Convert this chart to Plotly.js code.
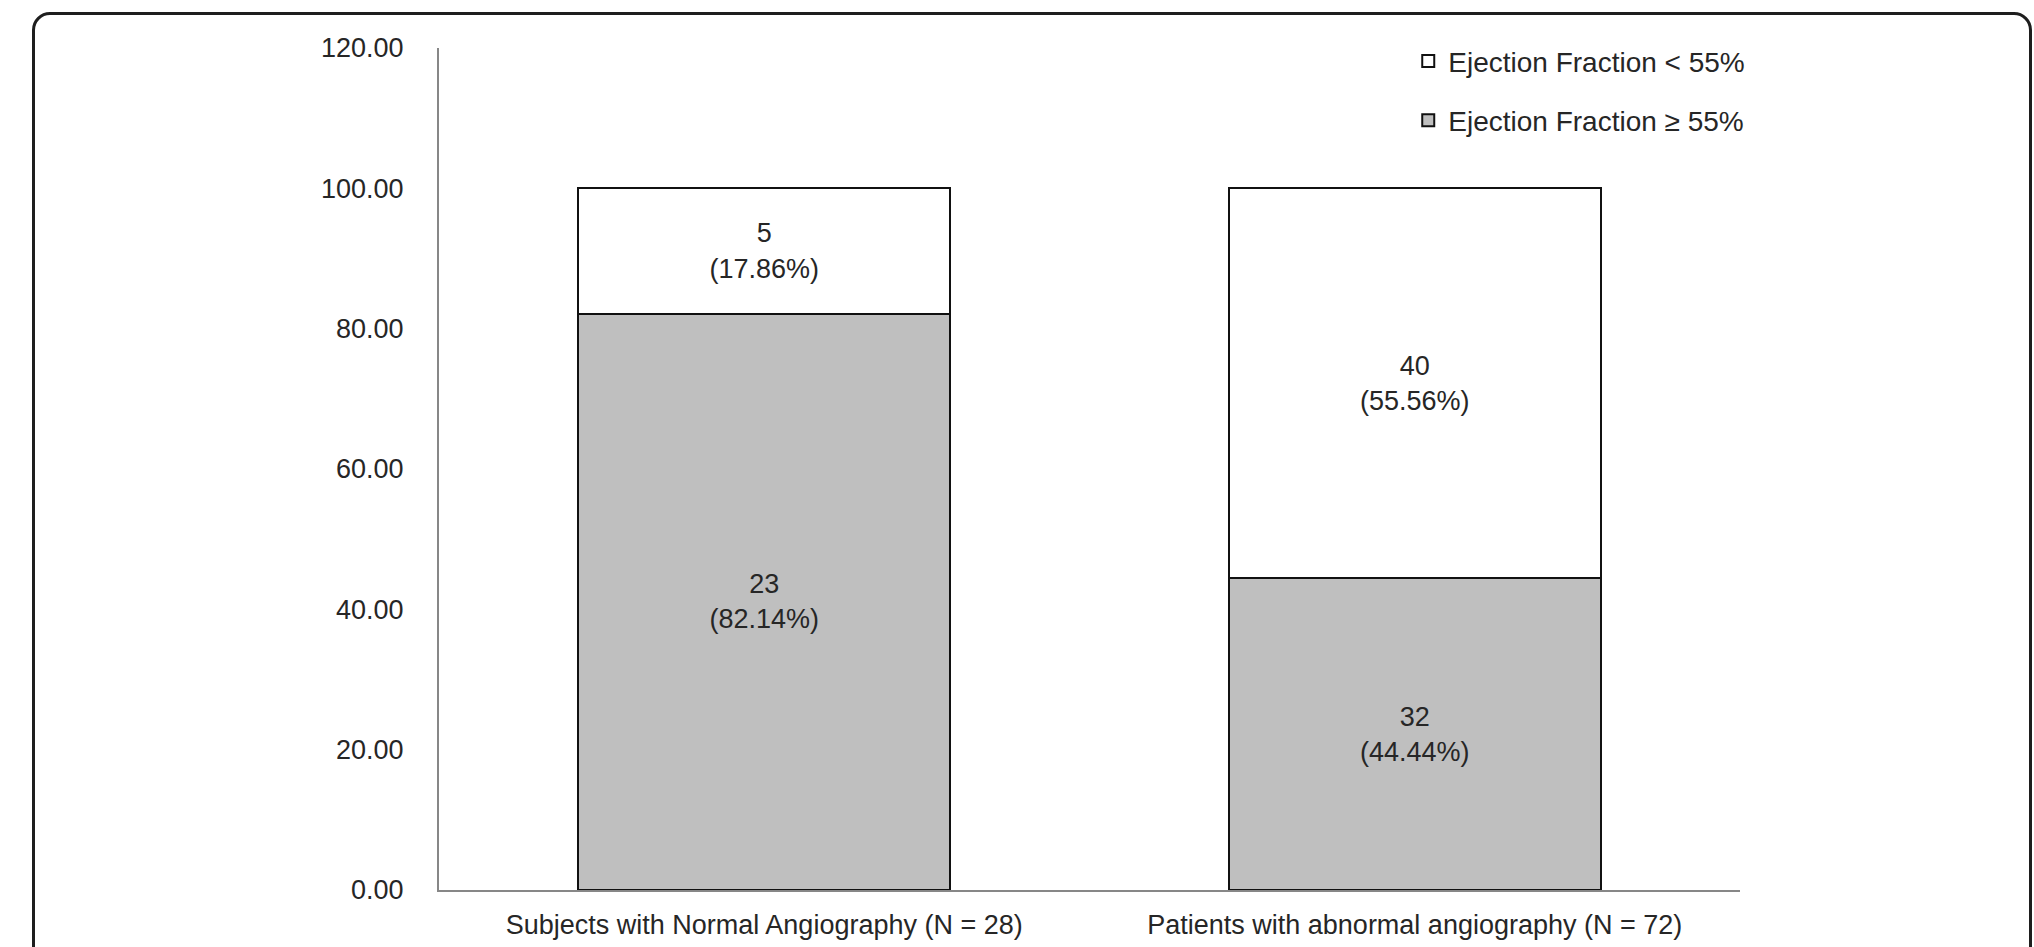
<!DOCTYPE html>
<html>
<head>
<meta charset="utf-8">
<script src="https://cdn.plot.ly/plotly-3.0.1.min.js"></script>
<style>
  html, body { margin: 0; padding: 0; background: #fff; overflow: hidden; }
  #wrap { position: relative; width: 2034px; height: 947px; overflow: hidden; }
  #stats { position: absolute; left: 0; top: 0; width: 2034px; height: 947px; }
  #frame {
    position: absolute; left: 32px; top: 12px; width: 1994px; height: 1000px;
    border: 3px solid #1e1e1e; border-radius: 18px; pointer-events: none;
  }
</style>
</head>
<body>
<div id="wrap">
  <div id="stats"></div>
  <div id="frame"></div>
</div>
<script>
var categories = [
  "Subjects with Normal Angiography (N = 28)",
  "Patients with abnormal angiography (N = 72)"
];
// ejection fraction >= 55%
var countsHigh = [23, 32];
var pctHigh = [82.14, 44.44];
// ejection fraction < 55%
var countsLow = [5, 40];
var pctLow = [17.86, 55.56];
var yTicks = [0, 20, 40, 60, 80, 100, 120];

function labels(counts, pct) {
  return counts.map(function (c, i) {
    return c + "<br>(" + pct[i].toFixed(2) + "%)";
  });
}

var data = [
  {
    type: "bar",
    name: "Ejection Fraction \u2265 55%",
    legendgroup: "b",
    legendrank: 2,
    x: categories,
    y: pctHigh,
    text: labels(countsHigh, pctHigh),
    textposition: "inside",
    insidetextanchor: "middle",
    textangle: 0,
    insidetextfont: { color: "#262626", size: 27 },
    marker: { color: "#bfbfbf", line: { color: "#111", width: 2 } },
    hoverinfo: "skip",
  },
  {
    type: "bar",
    name: "Ejection Fraction < 55%",
    legendgroup: "a",
    legendrank: 1,
    x: categories,
    y: pctLow,
    text: labels(countsLow, pctLow),
    textposition: "inside",
    insidetextanchor: "middle",
    textangle: 0,
    insidetextfont: { color: "#262626", size: 27 },
    marker: { color: "#ffffff", line: { color: "#111", width: 2 } },
    hoverinfo: "skip",
  },
];

var layout = {
  width: 2034,
  height: 947,
  margin: { t: 48, r: 294, l: 439, b: 57 },
  paper_bgcolor: "transparent",
  plot_bgcolor: "#fff",
  barmode: "stack",
  bargap: 0.428,
  font: { color: "#262626", family: "Liberation Sans", size: 27 },
  showlegend: true,
  legend: {
    x: 0.745, y: 1.014, xanchor: "left", yanchor: "top",
    traceorder: "grouped", tracegroupgap: 20,
    font: { size: 28, color: "#262626" },
    bgcolor: "rgba(0,0,0,0)",
  },
  xaxis: {
    showline: true, linecolor: "#878787", linewidth: 2,
    showgrid: false, zeroline: false, ticks: "",
    tickfont: { size: 27 },
    ticklabelstandoff: 10,
  },
  yaxis: {
    range: [0, 120], tickvals: yTicks, tickformat: ".2f",
    showline: true, linecolor: "#878787", linewidth: 2,
    showgrid: false, zeroline: false, ticks: "",
    ticklabelstandoff: 28,
  },
};

Plotly.newPlot("stats", data, layout, { displayModeBar: false, staticPlot: true });
</script>
</body>
</html>
